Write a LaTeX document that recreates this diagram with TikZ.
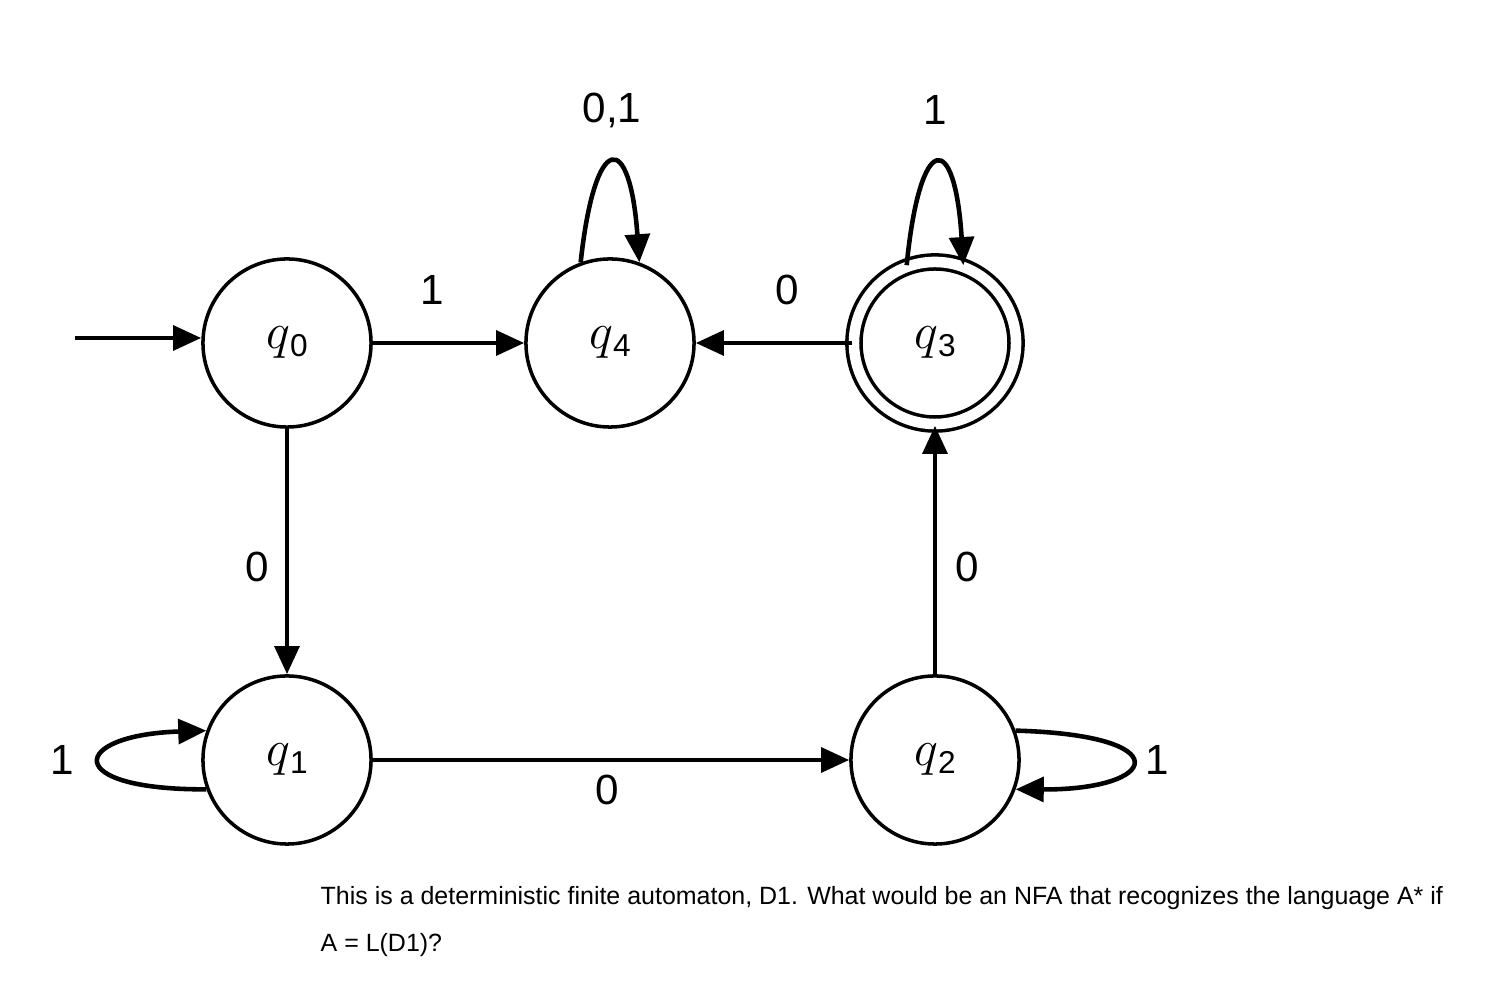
\documentclass[tikz,border=0pt]{standalone}
\usepackage{fontspec}
\setmainfont{Liberation Sans}
\usetikzlibrary{arrows.meta}
\begin{document}
\begin{tikzpicture}[x=0.01cm,y=-0.01cm,
  st/.style={circle,draw,line width=1pt,minimum size=1.68cm,inner sep=0pt,font=\fontsize{14}{16}\selectfont},
  acc/.style={st,double,double distance=3pt,minimum size=1.62cm},
  ed/.style={line width=1.3pt,-{Triangle[length=8pt,width=7pt]}},
  lb/.style={font=\fontsize{12}{14}\selectfont}]
\useasboundingbox (0,0) rectangle (1496,986);
\node[st] (q0) at (287,343) {$q$\raisebox{-2pt}{\fontsize{9}{10}\selectfont 0}};
\node[st] (q4) at (610,343) {$q$\raisebox{-2pt}{\fontsize{9}{10}\selectfont 4}};
\node[acc] (q3) at (935,343) {$q$\raisebox{-2pt}{\fontsize{9}{10}\selectfont 3}};
\node[st] (q1) at (287,760) {$q$\raisebox{-2pt}{\fontsize{9}{10}\selectfont 1}};
\node[st] (q2) at (935,760) {$q$\raisebox{-2pt}{\fontsize{9}{10}\selectfont 2}};
\coordinate (s) at (75,338);
\draw[ed] (s) -- (q0.west |- s);
\draw[ed] (q0) -- (q4);
\draw[ed] (q3) -- (q4);
\draw[ed] (q0) -- (q1);
\draw[ed] (q1) -- (q2);
\draw[ed] (q2) -- (q3);
\draw[ed] (q4.110) .. controls (595,130) and (630,130) .. (q4.70);
\draw[ed] (q3.110) .. controls (920,130) and (955,130) .. (q3.70);
\draw[ed] (q1.200) .. controls (60,790) and (70,735) .. (q1.160);
\draw[ed] (q2.20) .. controls (1180,735) and (1160,790) .. (q2.340);
\node[lb] (l01) at (612,110) {0,1};
\node[lb] (l1a) at (935,110) {1};
\node[lb] (l1b) at (432,290) {1};
\node[lb] (l0a) at (787,290) {0};
\node[lb] (l0b) at (257,567) {0};
\node[lb] (l0c) at (967,567) {0};
\node[lb] (l0d) at (607,790) {0};
\node[lb] (l1c) at (62,760) {1};
\node[lb] (l1d) at (1157,760) {1};
\node[anchor=west,inner sep=0pt,font=\fontsize{7.1}{9}\selectfont] (t1) at (320,898) {This is a deterministic finite automaton, D1. What would be an NFA that recognizes the language A* if};
\node[anchor=west,inner sep=0pt,font=\fontsize{7.1}{9}\selectfont] (t2) at (320,945) {A = L(D1)?};
\end{tikzpicture}
\end{document}
